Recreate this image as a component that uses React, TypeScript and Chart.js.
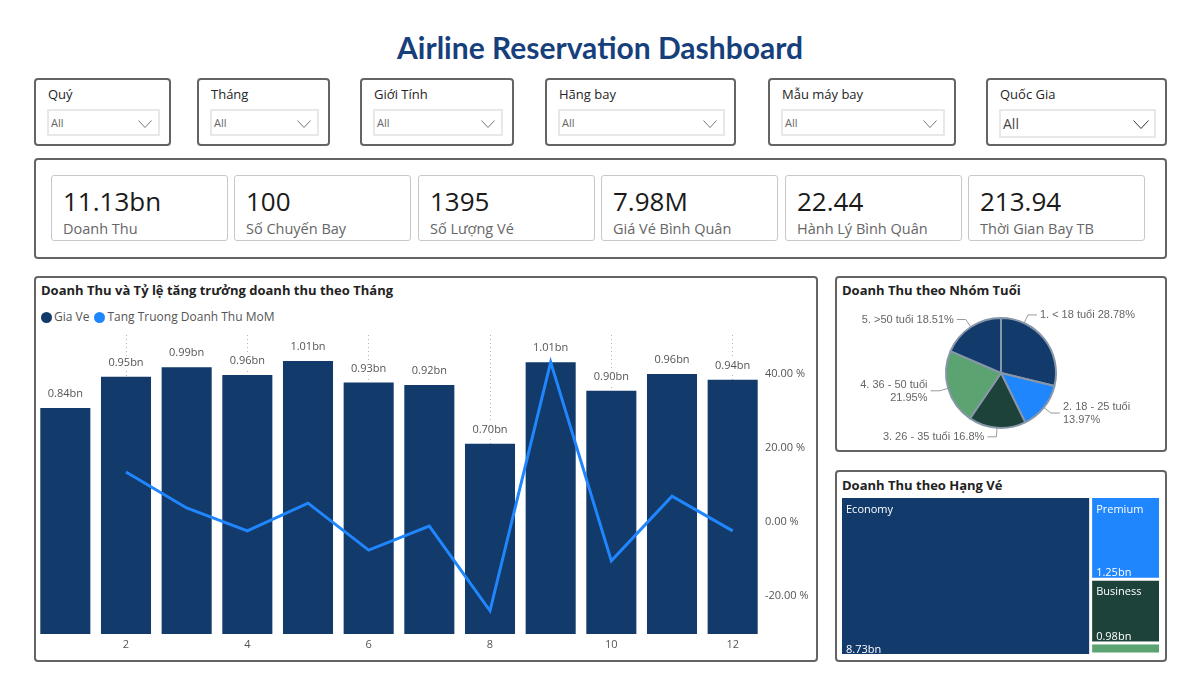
import React, { useEffect, useRef } from 'react';
import { Chart, registerables } from 'chart.js';

Chart.register(...registerables);

// ---------- DATA ----------
const months = ['1', '2', '3', '4', '5', '6', '7', '8', '9', '10', '11', '12'];
const revenueBn = [0.837, 0.952, 0.988, 0.959, 1.011, 0.931, 0.922, 0.704, 1.006, 0.901, 0.963, 0.941];
const momGrowthPct = [null, 13.5, 3.8, -2.4, 5.1, -7.6, -1.1, -24.0, 43.2, -10.5, 7.0, -2.4];
const growthTicks = [-20, 0, 20, 40];

const ageGroups = ['1. < 18 tuổi', '2. 18 - 25 tuổi', '3. 26 - 35 tuổi', '4. 36 - 50 tuổi', '5. >50 tuổi'];
const ageShares = [28.78, 13.97, 16.8, 21.95, 18.51];

const ticketClasses = ['Economy', 'Premium', 'Business', 'First'];
const classRevenueBn = [8.73, 1.25, 0.98, 0.17];

const slicerLabels = ['Quý', 'Tháng', 'Giới Tính', 'Hãng bay', 'Mẫu máy bay', 'Quốc Gia'];
const kpiValues = ['11.13bn', '100', '1395', '7.98M', '22.44', '213.94'];
const kpiLabels = ['Doanh Thu', 'Số Chuyến Bay', 'Số Lượng Vé', 'Giá Vé Bình Quân', 'Hành Lý Bình Quân', 'Thời Gian Bay TB'];

// ---------- STYLE ----------
const FONT = '"Open Sans", "Noto Sans", sans-serif';
const NAVY = '#123a6b';
const BLUE = '#2086fe';
const DKGREEN = '#1c4239';
const GREEN = '#5ba370';
const PANEL_BORDER = '2px solid #646464';

const slicerBoxes = [
  { x: 34, w: 137 },
  { x: 197, w: 133 },
  { x: 360, w: 154 },
  { x: 545, w: 191 },
  { x: 768, w: 188 },
  { x: 986, w: 181 },
];
const kpiX = [51, 234, 418, 601, 785, 968];

function BarLineChart() {
  const ref = useRef<HTMLCanvasElement>(null);
  useEffect(() => {
    const labelPlugin = {
      id: 'barLabels',
      afterDatasetsDraw(chart: any) {
        const ctx = chart.ctx;
        const meta = chart.getDatasetMeta(0);
        ctx.save();
        ctx.font = `11px ${FONT}`;
        ctx.textAlign = 'center';
        ctx.textBaseline = 'middle';
        meta.data.forEach((bar: any, i: number) => {
          const t = revenueBn[i].toFixed(2) + 'bn';
          const w = ctx.measureText(t).width;
          const y = bar.y - 14;
          ctx.fillStyle = '#ffffff';
          ctx.fillRect(bar.x - w / 2 - 2, y - 7, w + 4, 14);
          ctx.fillStyle = '#555555';
          ctx.fillText(t, bar.x, y);
        });
        ctx.restore();
      },
    };
    const chart = new Chart(ref.current!, {
      type: 'bar',
      data: {
        labels: months,
        datasets: [
          {
            type: 'bar',
            label: 'Gia Ve',
            data: revenueBn,
            backgroundColor: NAVY,
            yAxisID: 'y',
            order: 1,
            categoryPercentage: 0.825,
            barPercentage: 1,
          } as any,
          {
            type: 'line',
            label: 'Tang Truong Doanh Thu MoM',
            data: momGrowthPct,
            borderColor: BLUE,
            borderWidth: 3,
            pointRadius: 0,
            tension: 0,
            yAxisID: 'y1',
            order: 0,
          } as any,
        ],
      },
      options: {
        animation: false,
        responsive: false,
        maintainAspectRatio: false,
        layout: { padding: { left: 5, top: 10, right: 0, bottom: 0 } },
        plugins: { legend: { display: false }, tooltip: { enabled: false } },
        scales: {
          x: {
            type: 'category',
            offset: true,
            grid: {
              offset: false,
              drawTicks: false,
              color: (c: any) => (c.index % 2 === 1 ? '#b5b5b5' : 'rgba(0,0,0,0)'),
            },
            border: { display: false, dash: [1, 3] },
            ticks: {
              autoSkip: false,
              maxRotation: 0,
              padding: 4,
              color: '#555',
              font: { family: FONT, size: 11 },
              callback: (_v: any, i: number) => (i % 2 === 1 ? months[i] : ''),
            },
            afterFit: (s: any) => {
              s.height = 26;
            },
          },
          y: {
            display: false,
            min: 0,
            max: 1.107,
          },
          y1: {
            position: 'right',
            min: -30.27,
            max: 50.54,
            grid: { display: false, drawTicks: false },
            border: { display: false },
            ticks: {
              padding: 2,
              color: '#555',
              font: { family: FONT, size: 11 },
              callback: (v: any) => Number(v).toFixed(2) + ' %',
            },
            afterBuildTicks: (s: any) => {
              s.ticks = growthTicks.map((v) => ({ value: v }));
            },
            afterFit: (s: any) => {
              s.width = 55;
            },
          },
        },
      } as any,
      plugins: [labelPlugin],
    });
    return () => chart.destroy();
  }, []);
  return (
    <canvas
      ref={ref}
      width={788}
      height={335}
      style={{ position: 'absolute', left: 30, top: 325, width: 788, height: 335 }}
    />
  );
}

function PieChart() {
  const ref = useRef<HTMLCanvasElement>(null);
  useEffect(() => {
    const anchorFrac = [0.24, 0.5, 0.5, 0.5, 0.5];
    const wrapLabel = [false, true, false, true, false];
    const pieLabels = {
      id: 'pieLabels',
      afterDatasetsDraw(chart: any) {
        const ctx = chart.ctx;
        const meta = chart.getDatasetMeta(0);
        ctx.save();
        ctx.font = `11px "Liberation Sans", Arial, sans-serif`;
        ctx.textBaseline = 'middle';
        meta.data.forEach((arc: any, i: number) => {
          const p = arc.getProps(['x', 'y', 'startAngle', 'endAngle', 'outerRadius'], true);
          const a = p.startAngle + anchorFrac[i] * (p.endAngle - p.startAngle);
          const r = p.outerRadius;
          const ax = p.x + r * Math.cos(a);
          const ay = p.y + r * Math.sin(a);
          const ex = ax + 9 * Math.cos(a);
          const ey = ay + 9 * Math.sin(a);
          const right = Math.cos(a) >= 0;
          const hx = ex + (right ? 9 : -9);
          ctx.strokeStyle = '#9a9a9a';
          ctx.lineWidth = 1;
          ctx.beginPath();
          ctx.moveTo(ax, ay);
          ctx.lineTo(ex, ey);
          ctx.lineTo(hx, ey);
          ctx.stroke();
          ctx.fillStyle = '#666666';
          ctx.textAlign = right ? 'left' : 'right';
          const tx = hx + (right ? 3 : -3);
          const val = ageShares[i] + '%';
          if (wrapLabel[i]) {
            ctx.fillText(ageGroups[i], tx, ey - 6);
            ctx.fillText(val, tx, ey + 7);
          } else {
            ctx.fillText(ageGroups[i] + ' ' + val, tx, ey);
          }
        });
        ctx.restore();
      },
    };
    const chart = new Chart(ref.current!, {
      type: 'pie',
      data: {
        labels: ageGroups,
        datasets: [
          {
            data: ageShares,
            backgroundColor: [NAVY, BLUE, DKGREEN, GREEN, NAVY],
            borderColor: '#8797a9',
            borderWidth: 2,
          },
        ],
      },
      options: {
        animation: false,
        responsive: false,
        maintainAspectRatio: false,
        layout: { padding: { top: 17, bottom: 21, left: 0, right: 0 } },
        plugins: { legend: { display: false }, tooltip: { enabled: false } },
      } as any,
      plugins: [pieLabels],
    });
    return () => chart.destroy();
  }, []);
  return (
    <canvas
      ref={ref}
      width={330}
      height={150}
      style={{ position: 'absolute', left: 836, top: 300, width: 330, height: 150 }}
    />
  );
}

function TreemapChart() {
  const ref = useRef<HTMLCanvasElement>(null);
  useEffect(() => {
    const colors = [NAVY, BLUE, DKGREEN, GREEN];
    const treemap = {
      id: 'treemap',
      beforeDatasetsDraw(chart: any) {
        const ctx = chart.ctx;
        const xs = chart.scales.x;
        const ys = chart.scales.y;
        const total = classRevenueBn.reduce((s, v) => s + v, 0);
        const rest = total - classRevenueBn[0];
        const rects: { x0: number; x1: number; y0: number; y1: number }[] = [];
        const split = classRevenueBn[0] / total;
        rects.push({ x0: 0, x1: split, y0: 0, y1: 1 });
        let acc = 0;
        for (let i = 1; i < classRevenueBn.length; i++) {
          const h = classRevenueBn[i] / rest;
          rects.push({ x0: split, x1: 1, y0: acc, y1: acc + h });
          acc += h;
        }
        const gap = 1.5;
        ctx.save();
        rects.forEach((r, i) => {
          const px0 = xs.getPixelForValue(r.x0) + (r.x0 > 0 ? gap : 0);
          const px1 = xs.getPixelForValue(r.x1) - (r.x1 < 1 ? gap : 0);
          const py0 = ys.getPixelForValue(r.y0) + (r.y0 > 0 ? gap : 0);
          const py1 = ys.getPixelForValue(r.y1) - (r.y1 < 1 ? gap : 0);
          ctx.fillStyle = colors[i];
          ctx.fillRect(px0, py0, px1 - px0, py1 - py0);
          if (py1 - py0 > 40) {
            ctx.fillStyle = '#ffffff';
            ctx.font = `11px ${FONT}`;
            ctx.textAlign = 'left';
            ctx.textBaseline = 'top';
            ctx.fillText(ticketClasses[i], px0 + 4, py0 + 6);
            ctx.textBaseline = 'bottom';
            ctx.fillText(classRevenueBn[i].toFixed(2) + 'bn', px0 + 4, py1 + 1);
          }
        });
        ctx.restore();
      },
    };
    const chart = new Chart(ref.current!, {
      type: 'scatter',
      data: { datasets: [{ data: [] }] },
      options: {
        animation: false,
        responsive: false,
        maintainAspectRatio: false,
        layout: { padding: 0 },
        plugins: { legend: { display: false }, tooltip: { enabled: false } },
        scales: {
          x: { type: 'linear', min: 0, max: 1, display: false },
          y: { type: 'linear', min: 0, max: 1, reverse: true, display: false },
        },
      } as any,
      plugins: [treemap],
    });
    return () => chart.destroy();
  }, []);
  return (
    <canvas
      ref={ref}
      width={317}
      height={156}
      style={{ position: 'absolute', left: 842, top: 498, width: 317, height: 156 }}
    />
  );
}

function Chevron({ big }: { big?: boolean }) {
  const w = big ? 16 : 14;
  const h = big ? 9 : 8;
  return (
    <svg width={w} height={h} style={{ position: 'absolute', right: big ? 5 : 6, top: 9 }}>
      <polyline
        points={`0.5,0.5 ${w / 2},${h - 0.5} ${w - 0.5},0.5`}
        fill="none"
        stroke={big ? '#333' : '#777'}
        strokeWidth={1}
      />
    </svg>
  );
}

export default function App() {
  const abs = (s: React.CSSProperties): React.CSSProperties => ({ position: 'absolute', boxSizing: 'border-box', ...s });
  return (
    <div
      style={{
        position: 'absolute',
        left: 0,
        top: 0,
        width: 1200,
        height: 694,
        background: '#ffffff',
        overflow: 'hidden',
        fontFamily: FONT,
      }}
    >
      <div
        style={abs({
          left: 0,
          top: 27,
          width: 1200,
          textAlign: 'center',
          fontFamily: 'Lato, "Open Sans", sans-serif',
          fontWeight: 700,
          fontSize: 30,
          lineHeight: '40px',
          color: '#173f7c',
        })}
      >
        Airline Reservation Dashboard
      </div>

      {slicerBoxes.map((b, i) => {
        const last = i === slicerBoxes.length - 1;
        return (
          <div key={i} style={abs({ left: b.x, top: 78, width: b.w, height: 68, border: PANEL_BORDER, borderRadius: 4 })}>
            <div style={abs({ left: 12, top: 4, fontSize: 13, lineHeight: '20px', color: '#252525' })}>{slicerLabels[i]}</div>
            <div
              style={abs({
                left: 11,
                top: 29,
                width: b.w - 24,
                height: last ? 29 : 27,
                border: '2px solid #e8e8e8',
              })}
            >
              <div
                style={abs({
                  left: 2,
                  top: 0,
                  fontSize: last ? 14 : 11,
                  lineHeight: last ? '25px' : '23px',
                  color: last ? '#444' : '#666',
                })}
              >
                All
              </div>
              <Chevron big={last} />
            </div>
          </div>
        );
      })}

      <div style={abs({ left: 34, top: 158, width: 1133, height: 101, border: PANEL_BORDER, borderRadius: 4 })} />
      {kpiX.map((x, i) => (
        <div key={i} style={abs({ left: x, top: 175, width: 177, height: 66, border: '1px solid #c8c8c8', borderRadius: 3 })}>
          <div style={abs({ left: 11, top: 8, fontSize: 26, fontWeight: 500, lineHeight: '34px', color: '#1a1a1a' })}>{kpiValues[i]}</div>
          <div style={abs({ left: 11, top: 43, fontSize: 14.5, lineHeight: '20px', color: '#666' })}>{kpiLabels[i]}</div>
        </div>
      ))}

      <div style={abs({ left: 34, top: 276, width: 784, height: 386, border: PANEL_BORDER, borderRadius: 4 })} />
      <div style={abs({ left: 41, top: 280, fontSize: 13, fontWeight: 700, lineHeight: '20px', color: '#222' })}>
        Doanh Thu và Tỷ lệ tăng trưởng doanh thu theo Tháng
      </div>
      <div style={abs({ left: 41, top: 309, fontSize: 12, lineHeight: '16px', color: '#555', display: 'flex', alignItems: 'center' })}>
        <span style={{ width: 11, height: 11, borderRadius: 6, background: NAVY, display: 'inline-block', marginRight: 2 }} />
        <span>Gia Ve</span>
        <span style={{ width: 11, height: 11, borderRadius: 6, background: BLUE, display: 'inline-block', margin: '0 2px 0 5px' }} />
        <span>Tang Truong Doanh Thu MoM</span>
      </div>
      <BarLineChart />

      <div style={abs({ left: 835, top: 276, width: 332, height: 176, border: PANEL_BORDER, borderRadius: 4 })} />
      <div style={abs({ left: 842, top: 280, fontSize: 13, fontWeight: 700, lineHeight: '20px', color: '#222' })}>
        Doanh Thu theo Nhóm Tuổi
      </div>
      <PieChart />

      <div style={abs({ left: 835, top: 470, width: 332, height: 192, border: PANEL_BORDER, borderRadius: 4 })} />
      <div style={abs({ left: 842, top: 475, fontSize: 13, fontWeight: 700, lineHeight: '20px', color: '#222' })}>
        Doanh Thu theo Hạng Vé
      </div>
      <TreemapChart />
    </div>
  );
}
